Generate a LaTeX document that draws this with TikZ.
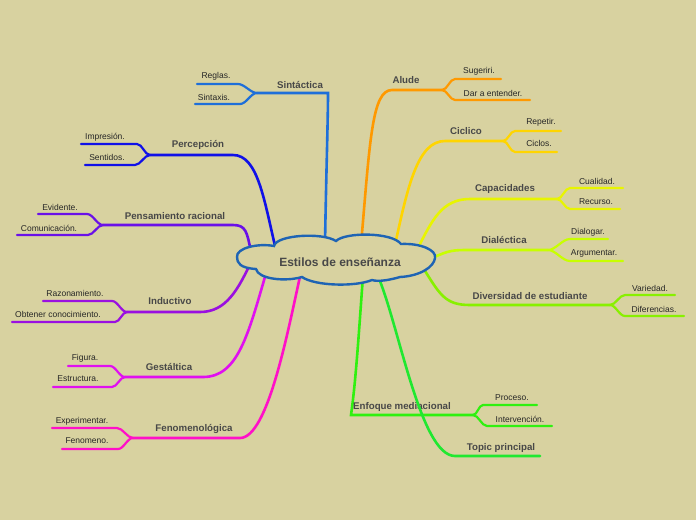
\documentclass[tikz,border=0pt]{standalone}
\usepackage{fontspec}
\setmainfont{Liberation Sans}
\definecolor{bg}{RGB}{216,210,160}
\definecolor{labgray}{RGB}{72,72,72}
\definecolor{cloudc}{RGB}{30,100,180}
\definecolor{cSin}{RGB}{30,111,217}
\definecolor{cPer}{RGB}{16,16,232}
\definecolor{cPen}{RGB}{106,16,232}
\definecolor{cInd}{RGB}{154,16,224}
\definecolor{cGes}{RGB}{224,16,240}
\definecolor{cFen}{RGB}{255,16,200}
\definecolor{cAlu}{RGB}{255,153,0}
\definecolor{cCic}{RGB}{255,213,0}
\definecolor{cCap}{RGB}{232,245,0}
\definecolor{cDia}{RGB}{200,255,0}
\definecolor{cDiv}{RGB}{136,240,0}
\definecolor{cEnf}{RGB}{48,240,16}
\definecolor{cTop}{RGB}{32,232,48}
\begin{document}
\begin{tikzpicture}[x=1pt,y=-1pt,
  mainline/.style={line width=2.6pt, line cap=round},
  subline/.style={line width=2.2pt, line cap=round},
  forkl/.style={out=180,in=0,looseness=0.8},
  forkr/.style={out=0,in=180,looseness=0.8},
  lab/.style={font=\bfseries\fontsize{9.7}{11}\selectfont, text=labgray, inner sep=0pt},
  slab/.style={font=\fontsize{8.5}{10}\selectfont, text=black!85, inner sep=0pt},
  titlelab/.style={font=\bfseries\fontsize{12}{14}\selectfont, text=labgray, inner sep=0pt}]
\fill[bg] (0,0) rectangle (696,520);
\useasboundingbox (0,0) rectangle (696,520);

% ---------- Sintáctica ----------
\coordinate (sinA) at (325,245);
\coordinate (sinC) at (328,93);
\coordinate (sinF) at (257,93);
\coordinate (sin1s) at (238,84); \coordinate (sin1e) at (197,84);
\coordinate (sin2s) at (240,104); \coordinate (sin2e) at (195,104);
\draw[mainline,cSin] (sinA) .. controls (326,180) and (328,120) .. (sinC) -- (sinF);
\draw[subline,cSin] (sinF) to[forkl] (sin1s) -- (sin1e);
\draw[subline,cSin] (sinF) to[forkl] (sin2s) -- (sin2e);
\node[lab] (sin) at (300,85) {Sintáctica};
\node[slab] (sin1) at (216,76) {Reglas.};
\node[slab] (sin2) at (214,97) {Sintaxis.};

% ---------- Percepción ----------
\coordinate (perA) at (276,250);
\coordinate (perC) at (233,155);
\coordinate (perF) at (150,155);
\coordinate (per1s) at (137,144); \coordinate (per1e) at (81,144);
\coordinate (per2s) at (135,165); \coordinate (per2e) at (85,165);
\draw[mainline,cPer] (perA) .. controls (264,200) and (258,155) .. (perC) -- (perF);
\draw[subline,cPer] (perF) to[forkl] (per1s) -- (per1e);
\draw[subline,cPer] (perF) to[forkl] (per2s) -- (per2e);
\node[lab] (per) at (198,145) {Percepción};
\node[slab] (per1) at (105,137) {Impresión.};
\node[slab] (per2) at (107,157) {Sentidos.};

% ---------- Pensamiento racional ----------
\coordinate (penA) at (251,252);
\coordinate (penC) at (233,225);
\coordinate (penF) at (103,225);
\coordinate (pen1s) at (87,214); \coordinate (pen1e) at (38,214);
\coordinate (pen2s) at (88,235); \coordinate (pen2e) at (17,235);
\draw[mainline,cPen] (penA) .. controls (247,232) and (246,225) .. (penC) -- (penF);
\draw[subline,cPen] (penF) to[forkl] (pen1s) -- (pen1e);
\draw[subline,cPen] (penF) to[forkl] (pen2s) -- (pen2e);
\node[lab] (pen) at (175,216) {Pensamiento racional};
\node[slab] (pen1) at (60,207) {Evidente.};
\node[slab] (pen2) at (49,228) {Comunicación.};

% ---------- Inductivo ----------
\coordinate (indA) at (252,260);
\coordinate (indC) at (200,312);
\coordinate (indF) at (127,312);
\coordinate (ind1s) at (112,301); \coordinate (ind1e) at (43,301);
\coordinate (ind2s) at (115,322); \coordinate (ind2e) at (12,322);
\draw[mainline,cInd] (indA) .. controls (238,290) and (226,312) .. (indC) -- (indF);
\draw[subline,cInd] (indF) to[forkl] (ind1s) -- (ind1e);
\draw[subline,cInd] (indF) to[forkl] (ind2s) -- (ind2e);
\node[lab] (ind) at (170,301) {Inductivo};
\node[slab] (ind1) at (75,293) {Razonamiento.};
\node[slab] (ind2) at (58,314) {Obtener conocimiento.};

% ---------- Gestáltica ----------
\coordinate (gesA) at (267,270);
\coordinate (gesC) at (203,377);
\coordinate (gesF) at (125,377);
\coordinate (ges1s) at (110,366); \coordinate (ges1e) at (68,366);
\coordinate (ges2s) at (112,387); \coordinate (ges2e) at (53,387);
\draw[mainline,cGes] (gesA) .. controls (248,335) and (238,377) .. (gesC) -- (gesF);
\draw[subline,cGes] (gesF) to[forkl] (ges1s) -- (ges1e);
\draw[subline,cGes] (gesF) to[forkl] (ges2s) -- (ges2e);
\node[lab] (ges) at (169,367) {Gestáltica};
\node[slab] (ges1) at (85,358) {Figura.};
\node[slab] (ges2) at (78,379) {Estructura.};

% ---------- Fenomenológica ----------
\coordinate (fenA) at (301,272);
\coordinate (fenC) at (240,438);
\coordinate (fenF) at (133,438);
\coordinate (fen1s) at (117,428); \coordinate (fen1e) at (52,428);
\coordinate (fen2s) at (118,449); \coordinate (fen2e) at (62,449);
\draw[mainline,cFen] (fenA) .. controls (288,330) and (268,438) .. (fenC) -- (fenF);
\draw[subline,cFen] (fenF) to[forkl] (fen1s) -- (fen1e);
\draw[subline,cFen] (fenF) to[forkl] (fen2s) -- (fen2e);
\node[lab] (fen) at (194,429) {Fenomenológica};
\node[slab] (fen1) at (82,421) {Experimentar.};
\node[slab] (fen2) at (87,441) {Fenomeno.};

% ---------- Alude ----------
\coordinate (aluA) at (361,245);
\coordinate (aluC) at (392,90);
\coordinate (aluF) at (442,90);
\coordinate (alu1s) at (455,79); \coordinate (alu1e) at (501,79);
\coordinate (alu2s) at (455,100); \coordinate (alu2e) at (530,100);
\draw[mainline,cAlu] (aluA) .. controls (370,140) and (372,90) .. (aluC) -- (aluF);
\draw[subline,cAlu] (aluF) to[forkr] (alu1s) -- (alu1e);
\draw[subline,cAlu] (aluF) to[forkr] (alu2s) -- (alu2e);
\node[lab] (alu) at (406,80) {Alude};
\node[slab] (alu1) at (479,71) {Sugeriri.};
\node[slab] (alu2) at (493,93) {Dar a entender.};

% ---------- Ciclico ----------
\coordinate (cicA) at (395,245);
\coordinate (cicC) at (445,141);
\coordinate (cicF) at (503,141);
\coordinate (cic1s) at (515,131); \coordinate (cic1e) at (561,131);
\coordinate (cic2s) at (515,152); \coordinate (cic2e) at (557,152);
\draw[mainline,cCic] (cicA) .. controls (408,185) and (418,141) .. (cicC) -- (cicF);
\draw[subline,cCic] (cicF) to[forkr] (cic1s) -- (cic1e);
\draw[subline,cCic] (cicF) to[forkr] (cic2s) -- (cic2e);
\node[lab] (cic) at (466,131) {Ciclico};
\node[slab] (cic1) at (541,122) {Repetir.};
\node[slab] (cic2) at (539,143) {Ciclos.};

% ---------- Capacidades ----------
\coordinate (capA) at (417,250);
\coordinate (capC) at (470,199);
\coordinate (capF) at (557,199);
\coordinate (cap1s) at (570,188); \coordinate (cap1e) at (623,188);
\coordinate (cap2s) at (570,209); \coordinate (cap2e) at (620,209);
\draw[mainline,cCap] (capA) .. controls (432,220) and (442,199) .. (capC) -- (capF);
\draw[subline,cCap] (capF) to[forkr] (cap1s) -- (cap1e);
\draw[subline,cCap] (capF) to[forkr] (cap2s) -- (cap2e);
\node[lab] (cap) at (505,189) {Capacidades};
\node[slab] (cap1) at (597,181) {Cualidad.};
\node[slab] (cap2) at (596,202) {Recurso.};

% ---------- Dialéctica ----------
\coordinate (diaA) at (428,260);
\coordinate (diaC) at (465,250);
\coordinate (diaF) at (548,250);
\coordinate (dia1s) at (570,239); \coordinate (dia1e) at (608,239);
\coordinate (dia2s) at (570,261); \coordinate (dia2e) at (623,261);
\draw[mainline,cDia] (diaA) .. controls (445,252) and (450,250) .. (diaC) -- (diaF);
\draw[subline,cDia] (diaF) to[forkr] (dia1s) -- (dia1e);
\draw[subline,cDia] (diaF) to[forkr] (dia2s) -- (dia2e);
\node[lab] (dia) at (504,240) {Dialéctica};
\node[slab] (dia1) at (588,232) {Dialogar.};
\node[slab] (dia2) at (594,253) {Argumentar.};

% ---------- Diversidad de estudiante ----------
\coordinate (divA) at (422,266);
\coordinate (divC) at (470,305);
\coordinate (divF) at (610,305);
\coordinate (div1s) at (625,295); \coordinate (div1e) at (675,295);
\coordinate (div2s) at (625,316); \coordinate (div2e) at (684,316);
\draw[mainline,cDiv] (divA) .. controls (440,295) and (445,305) .. (divC) -- (divF);
\draw[subline,cDiv] (divF) to[forkr] (div1s) -- (div1e);
\draw[subline,cDiv] (divF) to[forkr] (div2s) -- (div2e);
\node[lab] (div) at (530,296) {Diversidad de estudiante};
\node[slab] (div1) at (650,288) {Variedad.};
\node[slab] (div2) at (654,309) {Diferencias.};

% ---------- Enfoque mediacional ----------
\coordinate (enfA) at (363,276);
\coordinate (enfC) at (351,415);
\coordinate (enfF) at (473,415);
\coordinate (enf1s) at (483,405); \coordinate (enf1e) at (537,405);
\coordinate (enf2s) at (487,426); \coordinate (enf2e) at (552,426);
\draw[mainline,cEnf] (enfA) .. controls (359,330) and (356,380) .. (enfC) -- (enfF);
\draw[subline,cEnf] (enfF) to[forkr] (enf1s) -- (enf1e);
\draw[subline,cEnf] (enfF) to[forkr] (enf2s) -- (enf2e);
\node[lab] (enf) at (402,407) {Enfoque mediacional};
\node[slab] (enf1) at (512,398) {Proceso.};
\node[slab] (enf2) at (520,419) {Intervención.};

% ---------- Topic principal ----------
\coordinate (topA) at (377,274);
\coordinate (topC) at (455,456);
\coordinate (topE) at (540,456);
\draw[mainline,cTop] (topA) .. controls (398,320) and (420,456) .. (topC) -- (topE);
\node[lab] (top) at (501,448) {Topic principal};

% ---------- Central cloud ----------
\draw[line width=2.4pt, cloudc, fill=bg]
  (237,257)
  .. controls (236,248) and (258,243) .. (274,246)
  .. controls (276,235) and (322,232) .. (336,241)
  .. controls (345,232) and (392,232) .. (401,244)
  .. controls (420,243) and (437,250) .. (435,258)
  .. controls (434,267) and (420,276) .. (400,277)
  .. controls (390,280) and (378,282) .. (372,280)
  .. controls (355,287) and (315,286) .. (302,277)
  .. controls (285,282) and (258,279) .. (256,269)
  .. controls (240,268) and (237,263) .. (237,257) -- cycle;
\node[titlelab] (c) at (340,262) {Estilos de enseñanza};
\end{tikzpicture}
\end{document}
